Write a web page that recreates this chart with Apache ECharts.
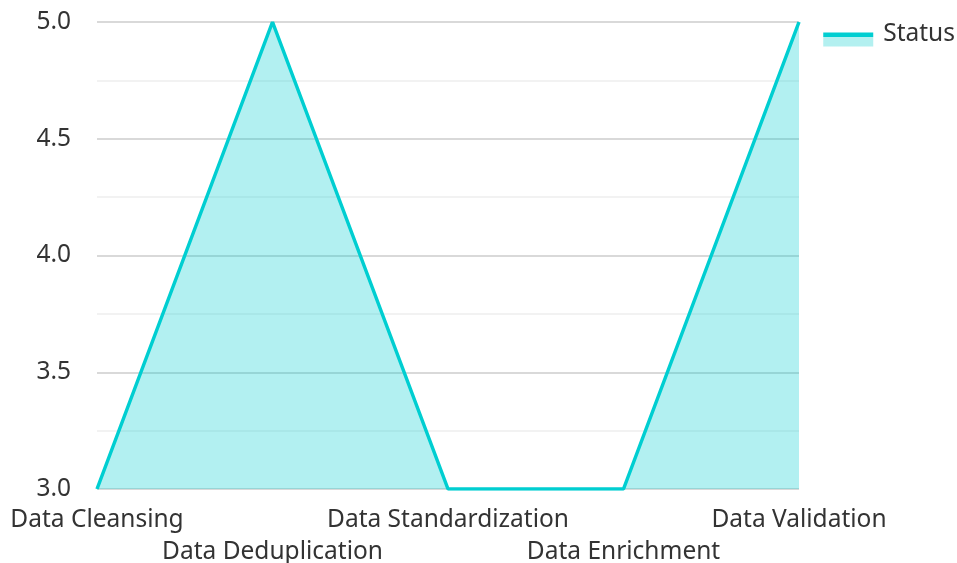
<!DOCTYPE html>
<html>
<head>
<meta charset="utf-8">
<script src="https://cdn.jsdelivr.net/npm/echarts@6/dist/echarts.min.js"></script>
<style>
html,body{margin:0;padding:0;background:#fff;}
#c{width:957px;height:563px;}
</style>
</head>
<body>
<div id="c"></div>
<script>
const categories = ['Data Cleansing', 'Data Deduplication', 'Data Standardization', 'Data Enrichment', 'Data Validation'];
const statusValues = [3, 5, 3, 3, 5];
const seriesName = 'Status';

const chart = echarts.init(document.getElementById('c'), null, {renderer: 'canvas'});
const font = 'Noto Sans';
const lineColor = '#00CED1';
const fillColor = '#b3f0f0';
const fs = 24.5;
chart.setOption({
  animation: false,
  textStyle: {fontFamily: font},
  legend: {
    right: 2,
    top: 22,
    padding: 0,
    icon: 'rect',
    itemWidth: 50,
    itemHeight: 14,
    itemGap: 10,
    formatter: '{t|{name}}',
    textStyle: {
      fontSize: fs, color: '#333', fontFamily: font, padding: [0, 0, 0, 5],
      rich: {t: {fontSize: fs, color: '#333', fontFamily: font, padding: [0, 0, 10, 0]}}
    },
    itemStyle: {
      color: new echarts.graphic.LinearGradient(0, 0, 0, 1, [
        {offset: 0, color: lineColor},
        {offset: 0.29, color: lineColor},
        {offset: 0.29, color: fillColor},
        {offset: 1, color: fillColor}
      ]),
      borderWidth: 0
    },
    data: [seriesName]
  },
  grid: {left: 97, right: 158, top: 22, bottom: 74, containLabel: false, outerBoundsMode: 'none'},
  xAxis: {
    type: 'category',
    data: categories,
    boundaryGap: false,
    axisLine: {show: false},
    axisTick: {show: false},
    axisLabel: {
      interval: 0,
      fontSize: fs,
      color: '#333',
      fontFamily: font,
      lineHeight: 32,
      margin: 15,
      formatter: (v, i) => (i % 2 ? '\n' + v : v)
    }
  },
  yAxis: {
    type: 'value',
    min: 3,
    max: 5,
    interval: 0.5,
    axisLine: {show: false},
    axisTick: {show: false},
    axisLabel: {
      fontSize: fs,
      color: '#333',
      fontFamily: font,
      margin: 26,
      formatter: v => v.toFixed(1)
    },
    splitLine: {lineStyle: {color: '#cccccc', width: 1.5}},
    minorTick: {show: false, splitNumber: 2},
    minorSplitLine: {show: true, lineStyle: {color: '#eeeeee', width: 1.5}}
  },
  series: [{
    name: seriesName,
    type: 'line',
    data: statusValues,
    symbol: 'none',
    lineStyle: {color: lineColor, width: 3.5},
    itemStyle: {color: lineColor},
    areaStyle: {color: lineColor, opacity: 0.3}
  }]
});
</script>
</body>
</html>
